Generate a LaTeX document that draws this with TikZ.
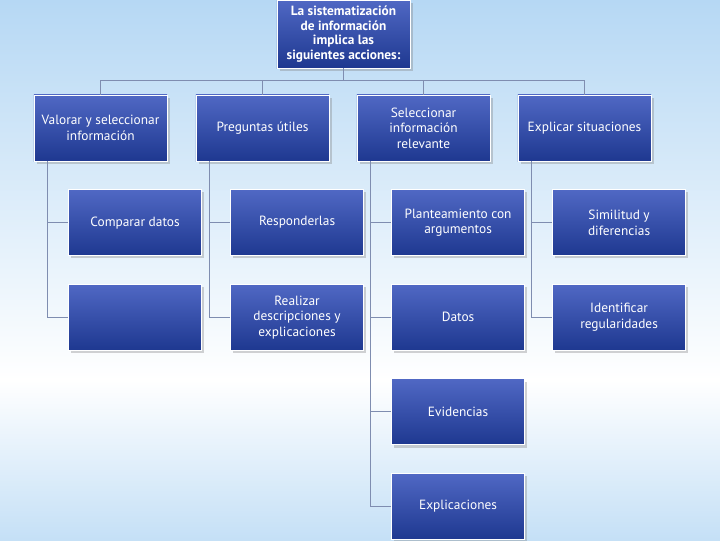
\documentclass[tikz,border=0pt]{standalone}
\usepackage{fontspec}
\setmainfont{PT Sans}
\usetikzlibrary{positioning,shadows}
\definecolor{bgblue}{HTML}{B6D8F4}
\definecolor{boxtop}{HTML}{5068C4}
\definecolor{boxbot}{HTML}{1E3890}
\definecolor{linkgray}{HTML}{7F8DB0}

\begin{document}
\begin{tikzpicture} [
                x=0.025cm, y=-0.025cm,
                actbox/.style={
                    rectangle,
                    draw=white,
                    thin,
                    top color=boxtop,
                    bottom color=boxbot,
                    text=white,
                    align=center,
                    font=\fontsize{9.5}{11}\selectfont,
                    minimum width=3.325cm,
                    minimum height=1.65cm,
                    drop shadow={shadow xshift=2pt, shadow yshift=-2pt, opacity=0.35}
                },
                link/.style={linkgray, line width=0.8pt}
            ]
                % fondo
                \shade[top color=bgblue, bottom color=white] (0,0) rectangle (720,380);
                \shade[top color=white, bottom color=bgblue!80] (0,380) rectangle (720,540);
                \useasboundingbox (0,0) rectangle (720,540);

                \node[actbox, minimum height=1.7cm, font=\bfseries\fontsize{9.5}{10.5}\selectfont] (root) at (343.5,34) {La sistematización\\de información\\implica las\\siguientes acciones:};

                \node[actbox] (val) at (100.5,128) {Valorar y seleccionar\\información};
                \node[actbox] (preg) at (262.5,128) {Preguntas útiles};
                \node[actbox] (sel) at (423.5,128) {Seleccionar\\información\\relevante};
                \node[actbox] (expl) at (584.5,128) {Explicar situaciones};

                \node[actbox] (val1) [below right=0.7cm and -2.475cm of val] {Comparar datos};
                \node[actbox] (val2) [below=0.7cm of val1] {};
                \node[actbox] (preg1) [below right=0.7cm and -2.475cm of preg] {Responderlas};
                \node[actbox] (preg2) [below=0.7cm of preg1] {Realizar\\descripciones y\\explicaciones};
                \node[actbox] (sel1) [below right=0.7cm and -2.475cm of sel] {Planteamiento con\\argumentos};
                \node[actbox] (sel2) [below=0.7cm of sel1] {Datos};
                \node[actbox] (sel3) [below=0.7cm of sel2] {Evidencias};
                \node[actbox] (sel4) [below=0.7cm of sel3] {Explicaciones};
                \node[actbox] (expl1) [below right=0.7cm and -2.475cm of expl] {Similitud y\\diferencias};
                \node[actbox] (expl2) [below=0.7cm of expl1] {Identificar\\regularidades};

                % conectores
                \foreach \p in {val,preg,sel,expl}
                    \draw[link] (root.south) |- ++(0,12) -| (\p.north);
                \foreach \p/\c in {val/val1,val/val2,preg/preg1,preg/preg2,sel/sel1,sel/sel2,sel/sel3,sel/sel4,expl/expl1,expl/expl2}
                    \draw[link] ([xshift=0.35cm]\p.south west) |- (\c.west);
            \end{tikzpicture}
\end{document}
